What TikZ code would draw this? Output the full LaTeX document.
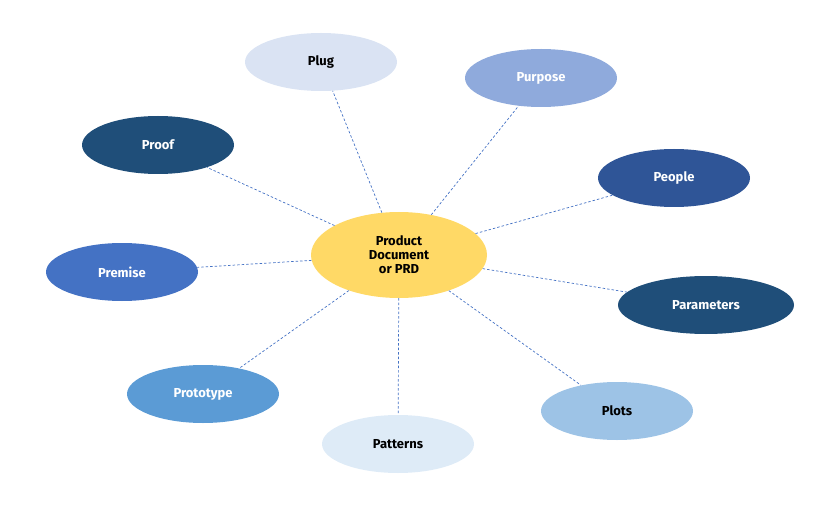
\documentclass[tikz,border=0pt]{standalone}
\usepackage{fontspec}
\setmainfont{Fira Sans}
\usetikzlibrary{shapes.geometric}
\definecolor{cA}{HTML}{DAE3F3}
\definecolor{cB}{HTML}{8FAADC}
\definecolor{cC}{HTML}{1F4E79}
\definecolor{cD}{HTML}{2F5597}
\definecolor{cE}{HTML}{4472C4}
\definecolor{cF}{HTML}{5B9BD5}
\definecolor{cG}{HTML}{9DC3E6}
\definecolor{cH}{HTML}{DEEBF7}
\definecolor{cY}{HTML}{FFD966}
\definecolor{ln}{HTML}{4472C4}
\tikzset{
  el/.style={ellipse,minimum width=152pt,minimum height=58pt,inner sep=0pt,font=\bfseries\fontsize{13}{15}\selectfont},
  lt/.style={el,text=black},
  dk/.style={el,text=white},
  conn/.style={draw=ln,dashed,dash pattern=on 2.5pt off 2pt,line width=0.7pt}
}
\begin{document}
\begin{tikzpicture}[x=1pt,y=-1pt]
\useasboundingbox (0,0) rectangle (835,513);
\node[lt,fill=cY,minimum width=176pt,minimum height=86pt,align=center] (c) at (399,255) {Product\\[-1pt]Document\\[-1pt]or PRD};
\node[lt,fill=cA] (plug) at (321,62) {Plug};
\node[dk,fill=cB] (purpose) at (541,78) {Purpose};
\node[dk,fill=cC] (proof) at (158,145) {Proof};
\node[dk,fill=cD] (people) at (674,178) {People};
\node[dk,fill=cE] (premise) at (122,272) {Premise};
\node[dk,fill=cC,minimum width=176pt] (param) at (706,305) {Parameters};
\node[dk,fill=cF] (proto) at (203,394) {Prototype};
\node[lt,fill=cG] (plots) at (617,411) {Plots};
\node[lt,fill=cH] (patt) at (398,444) {Patterns};
\foreach \n in {plug,purpose,proof,people,premise,param,proto,plots,patt}
  \draw[conn] (c) -- (\n);
\end{tikzpicture}
\end{document}
